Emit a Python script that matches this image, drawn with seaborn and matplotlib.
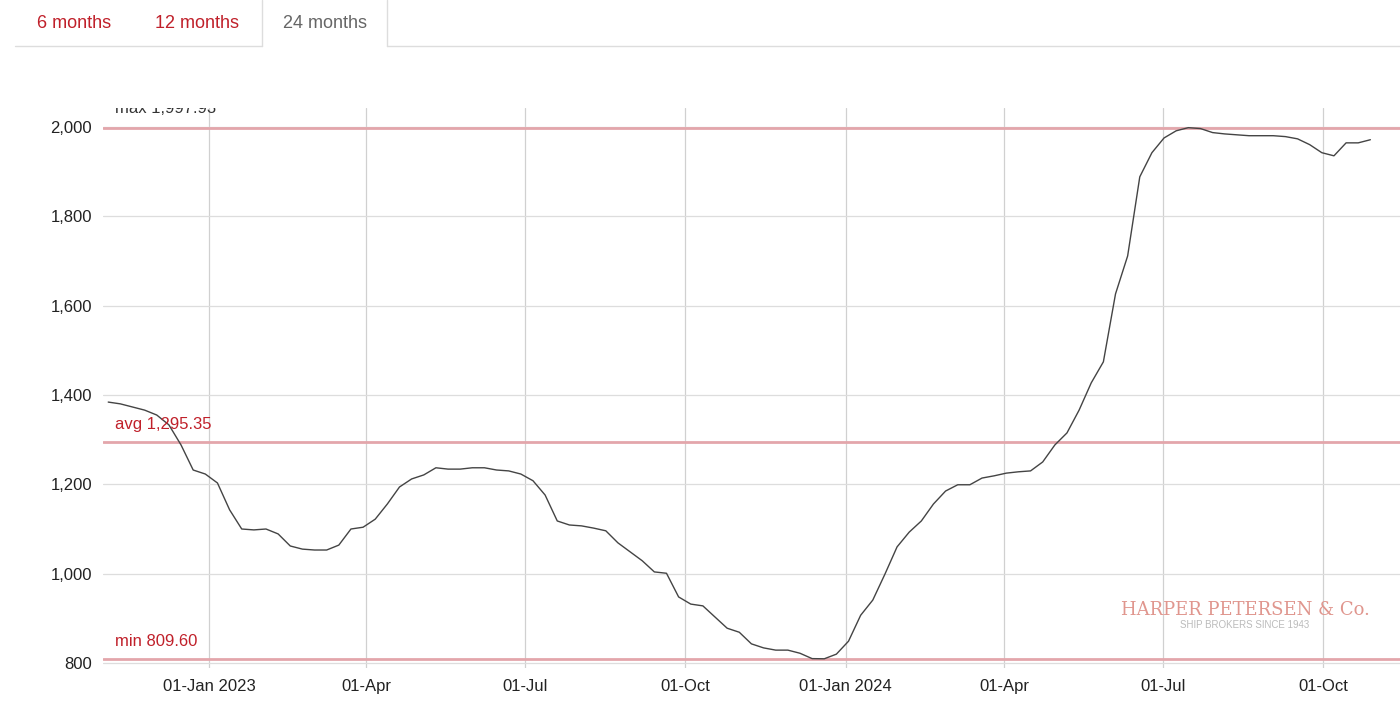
import numpy as np
import pandas as pd
import matplotlib
matplotlib.use("Agg")
import matplotlib.pyplot as plt
import matplotlib.dates as mdates
import seaborn as sns

# weekly index values
values = [1384, 1380, 1373, 1366, 1355, 1333, 1288, 1232, 1223, 1203, 1143, 1100, 1098, 1100,
          1089, 1062, 1055, 1053, 1053, 1064, 1100, 1104, 1122, 1156, 1194, 1212, 1221, 1237,
          1234, 1234, 1237, 1237, 1232, 1230, 1223, 1208, 1176, 1118, 1109, 1107, 1102, 1096,
          1069, 1049, 1029, 1004, 1001, 948, 932, 928, 903, 878, 869, 843, 834, 829, 829, 822,
          810, 809.6, 820, 849, 907, 941, 999, 1060, 1093, 1118, 1156, 1185, 1199, 1199, 1214,
          1219, 1225, 1228, 1230, 1250, 1288, 1315, 1366, 1427, 1474, 1626, 1711, 1888, 1942,
          1975, 1991, 1998, 1996, 1987, 1984, 1982, 1980, 1980, 1980, 1978, 1973, 1960, 1942,
          1935, 1964, 1964, 1971]
dates = pd.date_range("2022-11-04", "2024-10-28", periods=len(values))
max_val = 1997.93
avg_val = 1295.35
min_val = 809.60
tabs = ["6 months", "12 months", "24 months"]

df = pd.DataFrame({"date": dates, "value": values})

sns.set_theme(style="white")
plt.rcParams['font.family'] = ['Liberation Sans', 'DejaVu Sans']

fig = plt.figure(figsize=(14, 7.24), dpi=100)
ax = fig.add_axes([103 / 1400, 1 - 668 / 724, 1 - 103 / 1400, (668 - 108) / 724])

ax.set_ylim(789, 2042)
ax.set_xlim(pd.Timestamp("2022-11-01"), pd.Timestamp("2024-11-14"))
ax.set_yticks(range(800, 2001, 200))
ax.yaxis.set_major_formatter(matplotlib.ticker.FuncFormatter(lambda v, p: f"{int(v):,}"))
ax.xaxis.set_major_locator(mdates.MonthLocator(bymonth=[1, 4, 7, 10]))
ax.set_xticks(ax.get_xticks())
ax.set_xticklabels([("01-Jan %d" % mdates.num2date(t).year) if mdates.num2date(t).month == 1
                    else mdates.num2date(t).strftime("%d-%b") for t in ax.get_xticks()])
ax.tick_params(labelsize=12, colors="#222222", length=0, pad=8)
ax.grid(axis="y", color="#dddddd", lw=0.9)
ax.grid(axis="x", color="#d0d0d0", lw=0.9)
for s in ax.spines.values():
    s.set_visible(False)

red = "#c0202a"
line_col = "#e3a6ab"
for v in [max_val, avg_val, min_val]:
    ax.axhline(v, color=line_col, lw=2, zorder=2)

sns.lineplot(data=df, x="date", y="value", ax=ax, color="#444444", lw=1, zorder=3)
ax.set_xlabel("")
ax.set_ylabel("")

tx = pd.Timestamp("2022-11-08")
ax.text(tx, max_val + 26, f"max {max_val:,.2f}", color="#333333", fontsize=12, va="bottom",
        clip_on=True)
ax.text(tx, avg_val + 22, f"avg {avg_val:,.2f}", color=red, fontsize=12, va="bottom")
ax.text(tx, min_val + 22, f"min {min_val:,.2f}", color=red, fontsize=12, va="bottom")

# watermark
fig.text(1245 / 1400, 1 - 610 / 724, "HARPER PETERSEN & Co.", color="#e0968e", fontsize=13,
         ha="center", va="center", family="DejaVu Serif")
fig.text(1245 / 1400, 1 - 625 / 724, "SHIP BROKERS SINCE 1943", color="#bbbbbb", fontsize=7,
         ha="center", va="center")

# tabs
tab_x = [74, 197, 325]
for i, (t, x) in enumerate(zip(tabs, tab_x)):
    fig.text(x / 1400, 1 - 23 / 724, t, color="#666666" if i == 2 else red, fontsize=13,
             ha="center", va="center")
y_line = 1 - 46 / 724
fig.add_artist(plt.Line2D([15 / 1400, 262 / 1400], [y_line, y_line], color="#dddddd", lw=1))
fig.add_artist(plt.Line2D([387 / 1400, 1], [y_line, y_line], color="#dddddd", lw=1))
fig.add_artist(plt.Line2D([262 / 1400, 262 / 1400], [y_line, 1], color="#dddddd", lw=1))
fig.add_artist(plt.Line2D([387 / 1400, 387 / 1400], [y_line, 1], color="#dddddd", lw=1))

fig.savefig("out.png", dpi=100)
